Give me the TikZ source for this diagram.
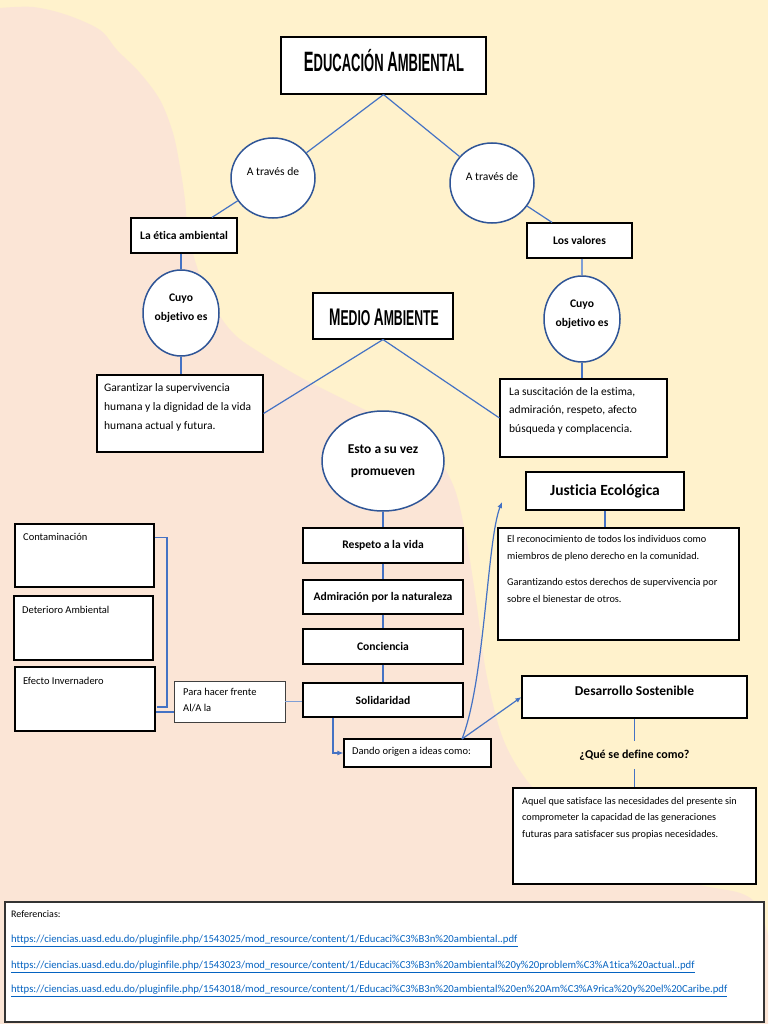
\documentclass[tikz,border=0pt]{standalone}
\usepackage{fontspec}
\setmainfont{Carlito}[Ligatures={NoCommon}]
\newfontfamily\titlefont[FakeStretch=0.52]{Liberation Sans}
\newfontfamily\titlefontb[FakeStretch=0.57]{Liberation Sans}
\usetikzlibrary{shapes.geometric,shadows,arrows.meta}
\definecolor{bgyellow}{HTML}{FFF2CC}
\definecolor{bgpeach}{HTML}{FBE5D6}
\definecolor{lnblue}{HTML}{4472C4}
\definecolor{lnlight}{HTML}{7F9FD6}
\definecolor{circblue}{HTML}{2F5597}
\definecolor{linkblue}{HTML}{0563C1}
\newcommand\mkbox[7][]{\node[bx,#1,minimum width={(#5-#3)*1pt},minimum height={(#6-#4)*1pt}] (#2) at ({(#3+#5)/2},{(#4+#6)/2}) {#7};}
\begin{document}
\begin{tikzpicture}[x=1pt,y=-1pt,
 bx/.style={rectangle,draw=black,line width=1.1pt,fill=white,inner sep=0pt},
 shbox/.style={drop shadow={shadow xshift=1.1pt,shadow yshift=-1.3pt,opacity=1,fill=black}},
 heavy/.style={line width=2.3pt},
 thinbx/.style={draw=black!75,line width=0.8pt},
 circ/.style={ellipse,draw=circblue,line width=1.5pt,fill=white,inner sep=0pt},
 conn/.style={draw=lnblue,line width=1.2pt},
 connl/.style={draw=lnlight,line width=1.2pt},
 arr/.style={-{Latex[length=6pt,width=5pt]}},
 rtxt/.style={inner sep=0pt,font=\fontsize{11.6}{14}\selectfont},
 btxt/.style={inner sep=0pt,font=\bfseries\fontsize{11.6}{14}\selectfont},
 stxt/.style={inner sep=0pt,font=\fontsize{10.5}{13}\selectfont},
]
\useasboundingbox (0,0) rectangle (768,1024);
% background
\fill[bgyellow] (0,0) rectangle (768,1024);
\fill[bgpeach] plot[smooth,tension=0.55] coordinates {(0,8) (33,7) (67,15) (100,30) (117,50) (140,73) (160,100) (173,133) (180,167) (185,200) (188,233) (197,267) (210,300) (233,333) (262,354) (300,377) (347,401) (400,428) (435,455) (455,490) (467,543) (477,607) (486,672) (502,736) (525,778) (560,815) (600,845) (650,870) (700,885) (740,893) (758,906) (768,935)} -- (768,1024) -- (0,1024) -- cycle;

% title
\mkbox{title}{281}{37}{486}{94}{}
\node[anchor=base,inner sep=0pt,font=\titlefont\bfseries] (titleT) at (384,72) {\fontsize{28}{30}\selectfont E\fontsize{25}{30}\selectfont DUCACIÓN \fontsize{28}{30}\selectfont A\fontsize{25}{30}\selectfont MBIENTAL};

% first level circles
\node[circ,minimum width=84pt,minimum height=80pt] (cA1) at (273,178) {};
\node[rtxt] (cA1T) at (273,172) {A través de};
\node[circ,minimum width=84pt,minimum height=80pt] (cA2) at (492,183) {};
\node[rtxt] (cA2T) at (492,177) {A través de};

\mkbox[shbox,btxt]{etica}{131}{218}{237}{253}{La ética ambiental}
\mkbox[shbox,btxt]{valores}{527}{223}{632}{258}{Los valores}

\node[circ,minimum width=76pt,minimum height=86pt] (cuyo1) at (181,313) {};
\node[btxt,align=center,font=\bfseries\fontsize{11.6}{19}\selectfont] (cuyo1T) at (181,308) {Cuyo\\objetivo es};
\node[circ,minimum width=76pt,minimum height=86pt] (cuyo2) at (582,319) {};
\node[btxt,align=center,font=\bfseries\fontsize{11.6}{19}\selectfont] (cuyo2T) at (582,314) {Cuyo\\objetivo es};

% medio ambiente
\mkbox{medio}{313}{293}{453}{339}{}
\node[anchor=base,inner sep=0pt,font=\titlefontb\bfseries] (medioT) at (384,325) {\fontsize{24}{30}\selectfont M\fontsize{21.5}{30}\selectfont EDIO \fontsize{24}{30}\selectfont A\fontsize{21.5}{30}\selectfont MBIENTE};

\mkbox[shbox]{garant}{97}{375}{263}{452}{}
\node[inner sep=0pt,anchor=north west,align=left,font=\fontsize{11.5}{19}\selectfont] (garantT) at (104,383) {Garantizar la supervivencia\\humana y la dignidad de la vida\\humana actual y futura.};
\mkbox[shbox]{susc}{500}{379}{667}{457}{}
\node[inner sep=0pt,anchor=north west,align=left,font=\fontsize{11.5}{18.5}\selectfont] (suscT) at (509,387) {La suscitación de la estima,\\admiración, respeto, afecto\\búsqueda y complacencia.};

% central column
\node[circ,minimum width=122pt,minimum height=100pt] (esto) at (383,461) {};
\node[btxt,align=center,font=\bfseries\fontsize{13.5}{22}\selectfont] (estoT) at (383,461) {Esto a su vez\\promueven};
\mkbox[shbox,btxt]{respeto}{303}{528}{463}{563}{Respeto a la vida}
\mkbox[shbox,btxt]{admir}{303}{580}{463}{614}{Admiración por la naturaleza}
\mkbox[shbox,btxt]{concien}{303}{629}{463}{664}{Conciencia}
\mkbox[shbox,btxt]{solid}{303}{683}{463}{717}{Solidaridad}

% left problems
\mkbox{cont}{15}{524}{154}{587}{}
\node[stxt,anchor=west] (contT) at (23,537) {Contaminación};
\mkbox[shbox]{deter}{14}{596}{153}{660}{}
\node[stxt,anchor=west] (deterT) at (22,610) {Deterioro Ambiental};
\mkbox[heavy]{efecto}{15}{667}{155}{731}{}
\node[stxt,anchor=west] (efectoT) at (23,681) {Efecto Invernadero};
\mkbox[thinbx]{para}{174}{681}{285}{722}{}
\node[inner sep=0pt,anchor=north west,align=left,font=\fontsize{10.5}{16}\selectfont] (paraT) at (183,688) {Para hacer frente\\Al/A la};
\mkbox[shbox]{dando}{344}{739}{491}{767}{}
\node[stxt,anchor=west] (dandoT) at (352,752) {Dando origen a ideas como:};

% right side
\mkbox[shbox,btxt,font=\bfseries\fontsize{15.5}{18}\selectfont]{justicia}{526}{472}{684}{510}{Justicia Ecológica}
\mkbox{recon}{498}{528}{739}{640}{}
\node[inner sep=0pt,anchor=north west,align=left,font=\fontsize{10.3}{17}\selectfont] (reconT) at (507,535) {El reconocimiento de todos los individuos como\\miembros de pleno derecho en la comunidad.\\[9pt]Garantizando estos derechos de supervivencia por\\sobre el bienestar de otros.};
\mkbox{desa}{522}{676}{747}{718}{}
\node[btxt,font=\bfseries\fontsize{13.5}{16}\selectfont] (desaT) at (634.5,691) {Desarrollo Sostenible};
\node[btxt,font=\bfseries\fontsize{12}{14}\selectfont,outer ysep=9pt] (que) at (634.5,755) {¿Qué se define como?};
\mkbox[heavy]{aquel}{513}{788}{756}{884}{}
\node[inner sep=0pt,anchor=north west,align=left,font=\fontsize{10.2}{16.5}\selectfont] (aquelT) at (522,797) {Aquel que satisface las necesidades del presente sin\\comprometer la capacidad de las generaciones\\futuras para satisfacer sus propias necesidades.};

% references
\mkbox[draw=black!80]{refs}{5}{902}{764}{1022}{}
\node[inner sep=0pt,anchor=west,font=\fontsize{10}{12}\selectfont] (refT) at (11,914) {Referencias:};
\node[inner sep=0pt,anchor=west,text=linkblue,font=\fontsize{10.7}{12}\selectfont] (ref1) at (11,941) {\underline{https://ciencias.uasd.edu.do/pluginfile.php/1543025/mod\_resource/content/1/Educaci\%C3\%B3n\%20ambiental..pdf}};
\node[inner sep=0pt,anchor=west,text=linkblue,font=\fontsize{10.7}{12}\selectfont] (ref2) at (11,967) {\underline{https://ciencias.uasd.edu.do/pluginfile.php/1543023/mod\_resource/content/1/Educaci\%C3\%B3n\%20ambiental\%20y\%20problem\%C3\%A1tica\%20actual..pdf}};
\node[inner sep=0pt,anchor=west,text=linkblue,font=\fontsize{10.7}{12}\selectfont] (ref3) at (11,991) {\underline{https://ciencias.uasd.edu.do/pluginfile.php/1543018/mod\_resource/content/1/Educaci\%C3\%B3n\%20ambiental\%20en\%20Am\%C3\%A9rica\%20y\%20el\%20Caribe.pdf}};

% connectors
\draw[conn] (title.south) -- (cA1);
\draw[conn] (title.south) -- (cA2);
\draw[conn] (cA1) -- (etica);
\draw[conn] (cA2) -- (valores);
\draw[conn,line width=1.6pt] (cuyo1.north |- etica.south) -- (cuyo1.north);
\draw[connl] (cuyo2.north |- valores.south) -- (cuyo2.north);
\draw[conn] (cuyo1.south) -- (cuyo1.south |- garant.north);
\draw[conn] (cuyo2.south) -- (cuyo2.south |- susc.north);
\draw[conn] (medio.south) -- (garant.east);
\draw[conn] (medio.south) -- (susc.west);
\draw[conn] (esto.south) -- (esto.south |- respeto.north);
\draw[conn] (respeto) -- (admir);
\draw[conn] (admir) -- (concien);
\draw[conn] (concien) -- (solid);
\coordinate (brk) at (167,707);
\coordinate (brkend) at (157,707);
\draw[conn,line width=1.1pt] ([yshift=-14pt]cont.north east) -| (brk) -- (brkend);
\draw[conn] ([yshift=-13pt]efecto.east) -- ([yshift=-13pt]efecto.east -| para.west);
\draw[connl] (para.east) -- (para.east -| solid.west);
\draw[conn,line width=1.1pt,arr] ([xshift=-50pt]solid.south) |- (dando.west);
\coordinate (dsplit) at (462,739);
\coordinate (jtip) at (502,502);
\draw[conn,arr] (dsplit) .. controls (485,680) and (487,540) .. (jtip);
\draw[conn,arr] (dsplit) -- (desa.west);
\draw[conn] (justicia.south) -- (justicia.south |- recon.north);
\draw[conn] (desa.south) -- (que.north);
\draw[conn] (que.south) -- (aquel.north);
\end{tikzpicture}
\end{document}
